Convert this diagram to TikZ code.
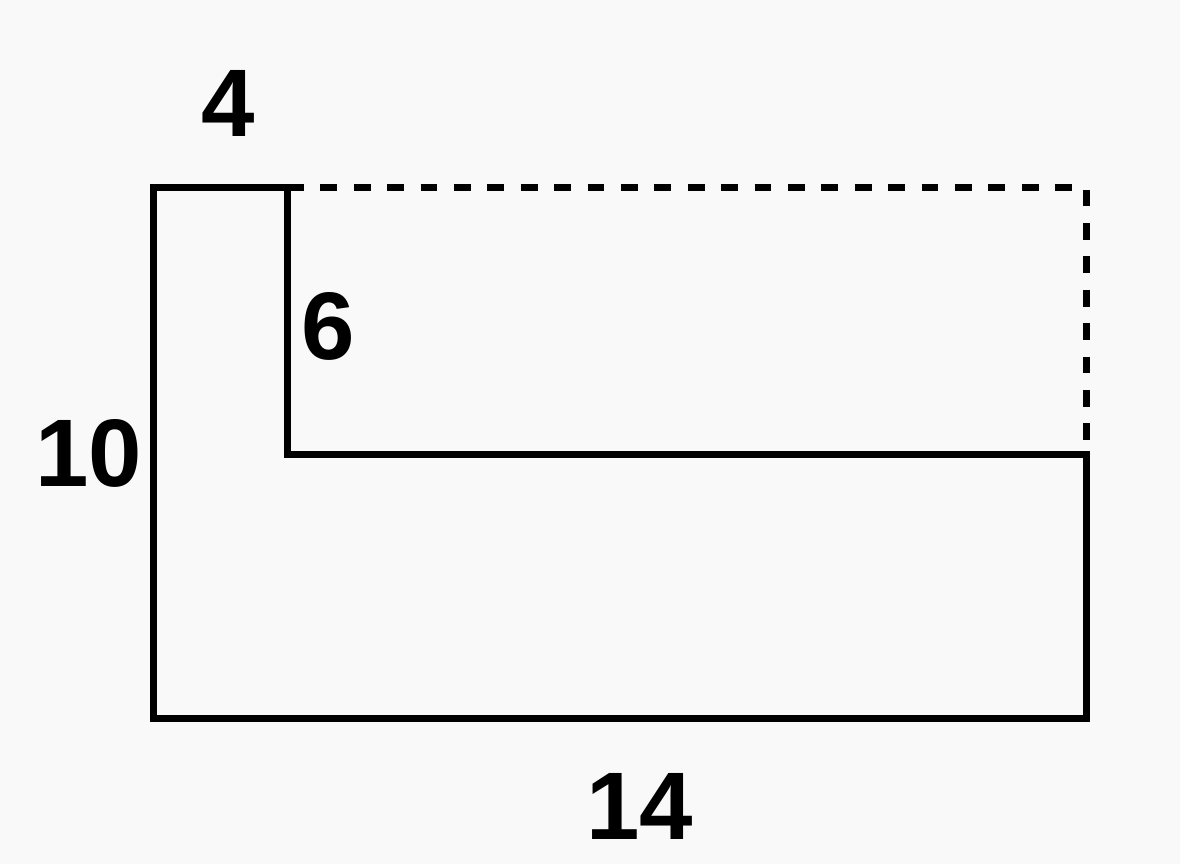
\documentclass[tikz,border=0pt]{standalone}
\usepackage{fontspec}
\setmainfont{Liberation Sans}
\begin{document}
\begin{tikzpicture}[x=1pt,y=-1pt,
  edge/.style={line width=7pt, line join=miter, black},
  hidden/.style={line width=7pt, black, dash pattern=on 16.7pt off 16.7pt},
  lbl/.style={font=\fontsize{96}{100}\selectfont\bfseries, inner sep=0pt, anchor=center}]
\fill[fill={rgb,255:red,249;green,249;blue,249}] (0,0) rectangle (1180,864);
\useasboundingbox (0,0) rectangle (1180,864);
\coordinate (A) at (153,187);
\coordinate (B) at (287,187);
\coordinate (C) at (287,454);
\coordinate (D) at (1086,454);
\coordinate (E) at (1086,718);
\coordinate (F) at (153,718);
\coordinate (G) at (1086,187);
\draw[hidden] (B) -- (G) -- (D);
\draw[edge] (A) -- (B) -- (C) -- (D) -- (E) -- (F) -- cycle;
\node[lbl] (l4) at (228,103) {4};
\node[lbl] (l6) at (328,326) {6};
\node[lbl] (l10) at (89,453) {10};
\node[lbl] (l14) at (640,806) {14};
\end{tikzpicture}
\end{document}
